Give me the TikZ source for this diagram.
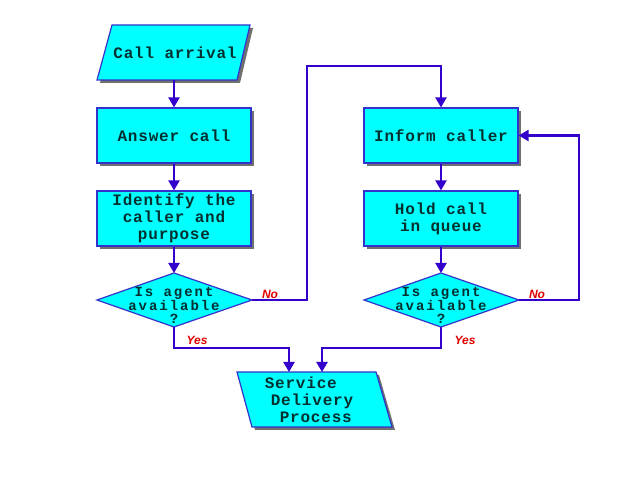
\documentclass[tikz,border=0pt]{standalone}
\usepackage{fontspec}
\newfontfamily\boxfont{Liberation Mono Bold}[LetterSpace=5]
\newfontfamily\dfont{Liberation Mono Bold}[LetterSpace=14]
\newfontfamily\lblfont{Liberation Sans Bold Italic}
\usetikzlibrary{arrows.meta,shadows}
\definecolor{fillc}{HTML}{00FFFF}
\definecolor{bordc}{HTML}{3333CC}
\definecolor{arrc}{HTML}{3300CC}
\definecolor{shadc}{HTML}{707070}
\definecolor{txtc}{HTML}{003030}
\definecolor{lblc}{HTML}{E00000}
\tikzset{
  boxtext/.style={font=\boxfont\fontsize{16}{17}\selectfont, text=txtc, align=center},
  procbox/.style={boxtext, draw=bordc, line width=1.2pt, fill=fillc, minimum width=154pt, minimum height=55pt, inner sep=0pt,
    drop shadow={shadow xshift=3pt, shadow yshift=-3pt, fill=shadc, opacity=1}},
  shapeline/.style={draw=bordc, line width=1.2pt, fill=fillc},
  shadowfill/.style={fill=shadc},
  dtext/.style={boxtext, font=\dfont\fontsize{14}{12.6}\selectfont, inner sep=0pt},
  arr/.style={draw=arrc, line width=2.2pt, -{Triangle[width=11pt,length=10pt]}},
  lbl/.style={font=\lblfont\fontsize{12}{12}\selectfont, text=lblc, inner sep=0pt}
}
\begin{document}
\begin{tikzpicture}[x=1pt,y=-1pt]
\useasboundingbox[fill=white] (0,0) rectangle (638,478);

% Call arrival parallelogram
\fill[shadowfill,shift={(3pt,-3pt)}] (112,25) -- (250,25) -- (237,80) -- (97,80) -- cycle;
\path[shapeline] (112,25) -- (250,25) -- (237,80) -- (97,80) -- cycle;
\node[boxtext] (ca) at (175,52.5) {Call arrival};
\coordinate (cab) at (174,80);

% boxes
\node[procbox] (ans) at (174,135.5) {Answer call};
\node[procbox] (idn) at (174,218.5) {Identify the\\caller and\\purpose};
\node[procbox] (inf) at (441,135.5) {Inform caller};
\node[procbox] (hold) at (441,218.5) {Hold call\\in queue};

% diamonds
\coordinate (d1t) at (174,273); \coordinate (d1r) at (252,300);
\coordinate (d1b) at (174,327); \coordinate (d1l) at (97,300);
\fill[shadowfill,shift={(3pt,-3pt)}] (d1t) -- (d1r) -- (d1b) -- (d1l) -- cycle;
\path[shapeline] (d1t) -- (d1r) -- (d1b) -- (d1l) -- cycle;
\node[dtext] (d1) at (174,305) {Is agent\\available\\?};

\coordinate (d2t) at (441,273); \coordinate (d2r) at (519,300);
\coordinate (d2b) at (441,327); \coordinate (d2l) at (364,300);
\fill[shadowfill,shift={(3pt,-3pt)}] (d2t) -- (d2r) -- (d2b) -- (d2l) -- cycle;
\path[shapeline] (d2t) -- (d2r) -- (d2b) -- (d2l) -- cycle;
\node[dtext] (d2) at (441,305) {Is agent\\available\\?};

% Service delivery parallelogram
\fill[shadowfill,shift={(3pt,-3pt)}] (237,372) -- (376,372) -- (392,427) -- (252,427) -- cycle;
\path[shapeline] (237,372) -- (376,372) -- (392,427) -- (252,427) -- cycle;
\node[boxtext, align=left] (sdp) at (309,399.5) {Service\\\hspace*{6pt}Delivery\\\hspace*{15pt}Process};
\coordinate (st1) at (289,372);
\coordinate (st2) at (322,372);

% connectors
\coordinate (m1) at (307,66);
\coordinate (m2) at (579,135.5);
\coordinate (j1) at (289,348);
\coordinate (j2) at (322,348);
\draw[arr] (cab) -- (ans.north);
\draw[arr] (ans.south) -- (idn.north);
\draw[arr] (idn.south) -- (d1t);
\draw[arr] (d1r) -| (m1) -| (inf.north);
\draw[arr] (inf.south) -- (hold.north);
\draw[arr] (hold.south) -- (d2t);
\draw[arr] (d2r) -| (m2) -- (inf.east);
\draw[arr] (d1b) |- (j1) -- (st1);
\draw[arr] (d2b) |- (j2) -- (st2);

% labels
\node[lbl] (no1) at (270,294) {No};
\node[lbl] (yes1) at (197,340) {Yes};
\node[lbl] (no2) at (537,294) {No};
\node[lbl] (yes2) at (465,340) {Yes};
\end{tikzpicture}
\end{document}
